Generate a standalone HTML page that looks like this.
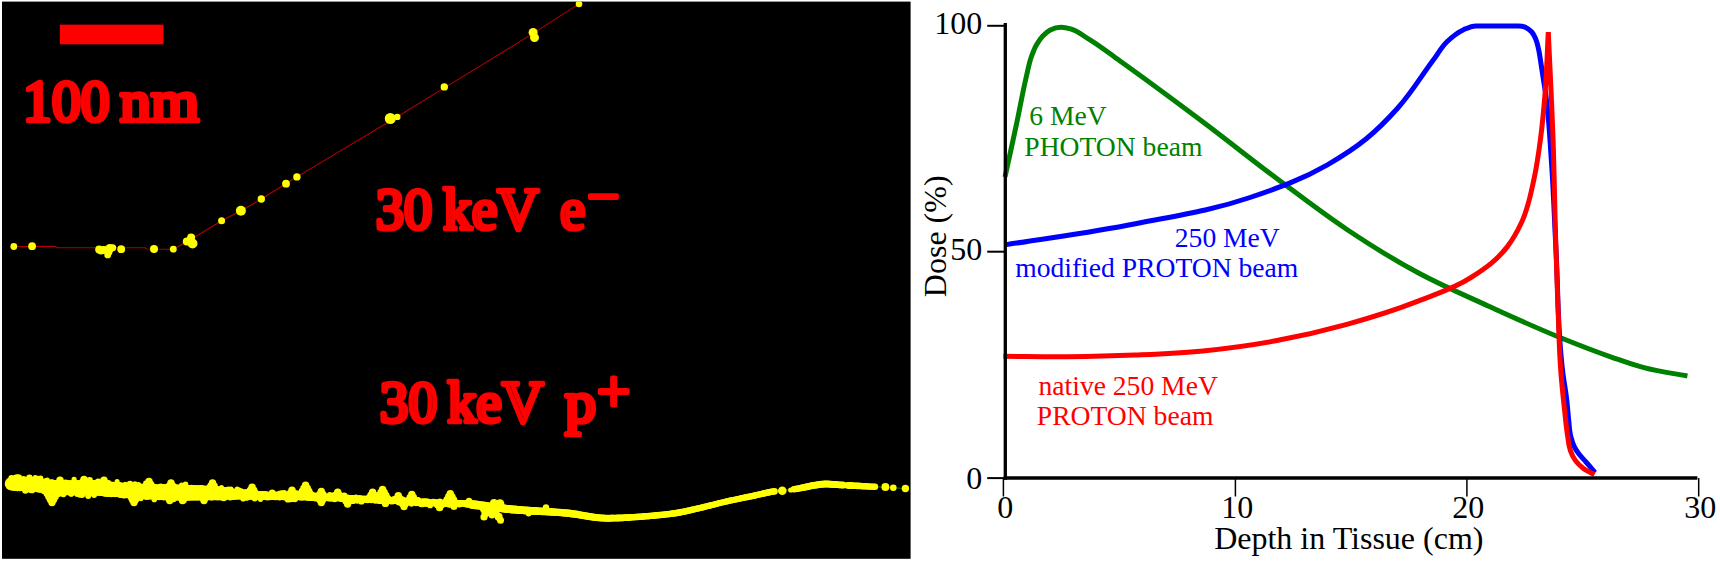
<!DOCTYPE html>
<html><head><meta charset="utf-8"><title>Particle tracks and depth dose curves</title>
<style>
html,body{margin:0;padding:0;background:#fff;}
body{width:1720px;height:561px;overflow:hidden;}
svg{display:block;}
.ch{font-family:"Liberation Serif",serif;}
.lb{font-family:"Liberation Serif",serif;font-weight:normal;font-size:58.5px;fill:#d20000;stroke:#f00;stroke-width:4.6px;stroke-linejoin:round;}
.sg{font-family:"Liberation Serif",serif;fill:#f00;stroke:#f00;stroke-width:4px;stroke-linejoin:round;}
</style></head><body>
<svg width="1720" height="561" viewBox="0 0 1720 561">
<rect x="0" y="0" width="1720" height="561" fill="#fff"/>
<rect x="2" y="1.6" width="908.6" height="557.2" fill="#000"/>
<rect x="59.8" y="24.6" width="103.7" height="19.7" fill="#f00"/>
<clipPath id="lp"><rect x="2" y="1.6" width="908.6" height="557.2"/></clipPath>
<g clip-path="url(#lp)">
<polyline fill="none" stroke="#b40000" stroke-width="1.1" points="13.8,246.5 55.0,246.3 56.5,247.6 145.0,247.7 146.5,249.0 173.3,249.2 190.0,240.0 221.6,220.7 240.9,210.8 261.3,199.0 286.0,183.7 296.9,176.9 393.3,119.3 444.3,87.9 533.1,33.4 579.0,3.9 583.0,1.4"/>
<g fill="#ff0">
<circle cx="13.8" cy="246.5" r="3.4"/><circle cx="32.1" cy="246.2" r="3.9"/><circle cx="99.1" cy="249.5" r="3.9"/><circle cx="106.2" cy="250.2" r="4.0"/><circle cx="109.8" cy="248.5" r="4.5"/><circle cx="112.7" cy="247.8" r="3.5"/><circle cx="107.7" cy="254.9" r="3.4"/><circle cx="103.4" cy="249.9" r="4.0"/><circle cx="108.4" cy="252.0" r="4.0"/><circle cx="101.0" cy="251.0" r="3.6"/><circle cx="121.2" cy="249.2" r="3.9"/><circle cx="154.0" cy="248.9" r="4.0"/><circle cx="173.3" cy="249.2" r="3.4"/><circle cx="191.1" cy="237.4" r="4.0"/><circle cx="186.8" cy="241.4" r="4.0"/><circle cx="192.5" cy="243.5" r="5.0"/><circle cx="221.6" cy="220.7" r="3.5"/><circle cx="240.9" cy="210.8" r="5.0"/><circle cx="261.3" cy="199.0" r="3.7"/><circle cx="286.0" cy="183.7" r="3.9"/><circle cx="296.9" cy="176.9" r="3.7"/><circle cx="390.3" cy="118.5" r="5.5"/><circle cx="397.3" cy="116.9" r="3.2"/><circle cx="444.3" cy="86.9" r="3.7"/><circle cx="533.1" cy="32.4" r="4.5"/><circle cx="534.5" cy="37.6" r="4.5"/><circle cx="579.0" cy="3.9" r="3.3"/>
</g>
<polyline fill="none" stroke="#008000" stroke-width="1" points="765,492 794,489.2 822.6,484.3 841.2,485 875.4,486.8 905.4,488.5"/>
<g fill="#ff0">
<circle cx="11.5" cy="483.8" r="6.8"/><circle cx="11.6" cy="478.2" r="3.2"/><circle cx="10.6" cy="484.1" r="2.5"/><circle cx="13.5" cy="483.9" r="6.9"/><circle cx="14.2" cy="482.9" r="2.5"/><circle cx="14.4" cy="485.9" r="2.7"/><circle cx="15.5" cy="484.1" r="7.0"/><circle cx="16.2" cy="478.0" r="3.6"/><circle cx="15.1" cy="478.2" r="2.6"/><circle cx="17.5" cy="484.3" r="7.0"/><circle cx="17.2" cy="486.0" r="3.1"/><circle cx="16.9" cy="477.1" r="2.5"/><circle cx="19.5" cy="484.2" r="7.0"/><circle cx="19.4" cy="485.3" r="2.8"/><circle cx="19.0" cy="486.8" r="3.4"/><circle cx="21.5" cy="484.1" r="7.0"/><circle cx="21.1" cy="487.2" r="3.5"/><circle cx="23.5" cy="483.7" r="7.0"/><circle cx="23.5" cy="479.2" r="3.3"/><circle cx="23.6" cy="487.8" r="3.2"/><circle cx="25.5" cy="484.6" r="7.0"/><circle cx="25.7" cy="485.5" r="3.2"/><circle cx="25.4" cy="490.3" r="3.4"/><circle cx="27.5" cy="484.5" r="7.0"/><circle cx="28.5" cy="486.4" r="3.2"/><circle cx="29.5" cy="484.3" r="7.0"/><circle cx="29.4" cy="477.7" r="3.2"/><circle cx="30.0" cy="477.6" r="2.5"/><circle cx="31.5" cy="484.3" r="7.0"/><circle cx="30.7" cy="490.2" r="2.9"/><circle cx="32.1" cy="490.2" r="3.1"/><circle cx="33.5" cy="485.2" r="7.0"/><circle cx="34.3" cy="482.8" r="2.9"/><circle cx="35.5" cy="484.7" r="7.0"/><circle cx="35.5" cy="481.0" r="2.7"/><circle cx="35.3" cy="477.6" r="2.7"/><circle cx="37.5" cy="485.2" r="7.0"/><circle cx="37.5" cy="487.9" r="3.5"/><circle cx="38.3" cy="479.0" r="3.2"/><circle cx="39.5" cy="485.8" r="7.0"/><circle cx="38.7" cy="484.0" r="2.9"/><circle cx="41.5" cy="485.9" r="7.0"/><circle cx="40.8" cy="481.2" r="2.5"/><circle cx="40.8" cy="477.9" r="2.5"/><circle cx="43.5" cy="485.6" r="7.0"/><circle cx="43.7" cy="491.9" r="2.4"/><circle cx="43.2" cy="483.7" r="2.7"/><circle cx="45.5" cy="485.8" r="7.0"/><circle cx="47.5" cy="486.3" r="7.0"/><circle cx="47.2" cy="480.1" r="2.5"/><circle cx="46.5" cy="481.7" r="3.4"/><circle cx="49.5" cy="486.9" r="7.0"/><circle cx="48.6" cy="487.1" r="2.6"/><circle cx="49.9" cy="491.4" r="3.6"/><circle cx="51.5" cy="486.3" r="7.0"/><circle cx="51.6" cy="490.8" r="2.6"/><circle cx="52.1" cy="482.4" r="2.8"/><circle cx="53.5" cy="487.2" r="7.0"/><circle cx="55.5" cy="487.1" r="7.1"/><circle cx="55.2" cy="487.1" r="2.7"/><circle cx="55.0" cy="483.3" r="2.4"/><circle cx="57.5" cy="487.1" r="7.1"/><circle cx="58.4" cy="493.5" r="3.5"/><circle cx="59.5" cy="486.8" r="7.1"/><circle cx="58.9" cy="482.3" r="2.7"/><circle cx="59.5" cy="491.7" r="3.5"/><circle cx="61.5" cy="487.2" r="7.1"/><circle cx="62.3" cy="489.6" r="2.5"/><circle cx="60.9" cy="486.7" r="3.3"/><circle cx="63.5" cy="487.4" r="7.2"/><circle cx="63.3" cy="493.8" r="3.4"/><circle cx="62.8" cy="490.2" r="3.5"/><circle cx="65.5" cy="486.8" r="7.2"/><circle cx="64.8" cy="491.5" r="3.5"/><circle cx="67.5" cy="487.7" r="7.2"/><circle cx="66.8" cy="488.0" r="2.8"/><circle cx="67.6" cy="489.4" r="3.6"/><circle cx="69.5" cy="487.8" r="7.3"/><circle cx="68.9" cy="492.0" r="3.4"/><circle cx="69.7" cy="483.2" r="2.8"/><circle cx="71.5" cy="487.2" r="7.3"/><circle cx="71.2" cy="494.1" r="2.6"/><circle cx="71.3" cy="493.5" r="3.1"/><circle cx="73.5" cy="487.9" r="7.4"/><circle cx="72.5" cy="487.8" r="3.0"/><circle cx="74.1" cy="479.4" r="2.6"/><circle cx="75.5" cy="487.2" r="7.4"/><circle cx="75.2" cy="488.4" r="3.3"/><circle cx="74.7" cy="491.9" r="3.1"/><circle cx="77.5" cy="487.7" r="7.5"/><circle cx="77.5" cy="492.0" r="2.7"/><circle cx="77.4" cy="493.8" r="3.3"/><circle cx="79.5" cy="487.8" r="7.5"/><circle cx="79.4" cy="490.7" r="3.0"/><circle cx="79.9" cy="494.7" r="3.0"/><circle cx="81.5" cy="488.1" r="7.5"/><circle cx="82.2" cy="494.8" r="3.1"/><circle cx="83.5" cy="487.4" r="7.6"/><circle cx="83.0" cy="480.9" r="2.9"/><circle cx="84.3" cy="492.3" r="3.2"/><circle cx="85.5" cy="487.5" r="7.6"/><circle cx="86.3" cy="482.2" r="3.2"/><circle cx="87.5" cy="487.7" r="7.7"/><circle cx="88.2" cy="495.9" r="3.0"/><circle cx="89.5" cy="487.7" r="7.7"/><circle cx="88.9" cy="485.4" r="3.0"/><circle cx="89.6" cy="480.4" r="3.3"/><circle cx="91.5" cy="488.0" r="7.7"/><circle cx="91.5" cy="490.2" r="2.8"/><circle cx="92.4" cy="492.5" r="3.6"/><circle cx="93.5" cy="487.8" r="7.7"/><circle cx="93.0" cy="493.1" r="2.4"/><circle cx="94.1" cy="495.1" r="2.9"/><circle cx="95.5" cy="488.0" r="7.8"/><circle cx="95.9" cy="489.4" r="3.5"/><circle cx="95.4" cy="491.6" r="2.5"/><circle cx="97.5" cy="487.9" r="7.8"/><circle cx="98.2" cy="481.8" r="3.4"/><circle cx="99.5" cy="488.0" r="7.8"/><circle cx="100.4" cy="489.4" r="2.8"/><circle cx="101.5" cy="488.3" r="7.8"/><circle cx="100.7" cy="484.3" r="3.0"/><circle cx="101.1" cy="483.3" r="2.5"/><circle cx="103.5" cy="488.5" r="7.8"/><circle cx="102.9" cy="488.7" r="2.7"/><circle cx="102.5" cy="484.3" r="2.4"/><circle cx="105.5" cy="489.1" r="7.7"/><circle cx="106.4" cy="488.4" r="2.6"/><circle cx="105.5" cy="487.8" r="3.4"/><circle cx="107.5" cy="489.3" r="7.7"/><circle cx="108.5" cy="492.1" r="3.0"/><circle cx="107.8" cy="492.2" r="3.4"/><circle cx="109.5" cy="489.0" r="7.7"/><circle cx="108.6" cy="482.6" r="2.5"/><circle cx="108.7" cy="483.4" r="2.7"/><circle cx="111.5" cy="489.6" r="7.7"/><circle cx="111.1" cy="484.9" r="2.7"/><circle cx="113.5" cy="489.4" r="7.6"/><circle cx="114.4" cy="485.6" r="2.9"/><circle cx="115.5" cy="489.6" r="7.6"/><circle cx="115.2" cy="486.7" r="3.6"/><circle cx="115.5" cy="489.2" r="2.9"/><circle cx="117.5" cy="489.5" r="7.6"/><circle cx="116.7" cy="485.7" r="2.4"/><circle cx="117.1" cy="481.6" r="2.5"/><circle cx="119.5" cy="489.7" r="7.6"/><circle cx="119.8" cy="493.9" r="3.0"/><circle cx="119.2" cy="488.3" r="3.5"/><circle cx="121.5" cy="490.6" r="7.5"/><circle cx="120.6" cy="492.3" r="3.3"/><circle cx="123.5" cy="490.6" r="7.5"/><circle cx="122.8" cy="495.0" r="3.3"/><circle cx="124.1" cy="495.6" r="3.0"/><circle cx="125.5" cy="490.7" r="7.5"/><circle cx="125.9" cy="493.1" r="3.5"/><circle cx="125.2" cy="484.2" r="2.4"/><circle cx="127.5" cy="490.1" r="7.4"/><circle cx="127.9" cy="492.5" r="3.2"/><circle cx="129.5" cy="490.7" r="7.4"/><circle cx="129.5" cy="494.4" r="3.4"/><circle cx="130.0" cy="484.0" r="3.2"/><circle cx="131.5" cy="490.6" r="7.4"/><circle cx="130.9" cy="494.5" r="2.7"/><circle cx="131.3" cy="490.7" r="3.6"/><circle cx="133.5" cy="490.9" r="7.4"/><circle cx="133.8" cy="492.7" r="3.3"/><circle cx="134.0" cy="486.9" r="2.6"/><circle cx="135.5" cy="490.8" r="7.4"/><circle cx="135.0" cy="483.7" r="2.4"/><circle cx="135.1" cy="493.7" r="3.2"/><circle cx="137.5" cy="491.1" r="7.4"/><circle cx="138.3" cy="485.1" r="3.0"/><circle cx="136.5" cy="497.4" r="3.6"/><circle cx="139.5" cy="491.2" r="7.4"/><circle cx="141.5" cy="491.3" r="7.5"/><circle cx="140.9" cy="498.6" r="2.7"/><circle cx="142.4" cy="491.7" r="2.6"/><circle cx="143.5" cy="491.0" r="7.5"/><circle cx="143.0" cy="494.4" r="3.5"/><circle cx="145.5" cy="491.9" r="7.5"/><circle cx="145.5" cy="483.0" r="2.4"/><circle cx="145.2" cy="485.6" r="2.8"/><circle cx="147.5" cy="491.4" r="7.6"/><circle cx="146.7" cy="496.8" r="3.3"/><circle cx="149.5" cy="492.1" r="7.6"/><circle cx="149.2" cy="488.4" r="3.5"/><circle cx="149.2" cy="493.0" r="3.6"/><circle cx="151.5" cy="491.6" r="7.7"/><circle cx="152.2" cy="484.8" r="2.5"/><circle cx="151.0" cy="487.9" r="3.5"/><circle cx="153.5" cy="491.8" r="7.7"/><circle cx="154.3" cy="499.4" r="2.8"/><circle cx="155.5" cy="492.0" r="7.8"/><circle cx="157.5" cy="492.0" r="7.8"/><circle cx="157.4" cy="496.1" r="2.5"/><circle cx="156.6" cy="488.4" r="3.2"/><circle cx="159.5" cy="492.4" r="7.9"/><circle cx="159.1" cy="489.3" r="3.0"/><circle cx="159.8" cy="488.2" r="3.6"/><circle cx="161.5" cy="491.8" r="7.9"/><circle cx="160.8" cy="486.3" r="2.9"/><circle cx="160.9" cy="492.0" r="3.5"/><circle cx="163.5" cy="492.5" r="7.9"/><circle cx="162.7" cy="486.6" r="2.6"/><circle cx="165.5" cy="492.0" r="8.0"/><circle cx="165.6" cy="487.9" r="2.7"/><circle cx="167.5" cy="492.5" r="8.0"/><circle cx="167.3" cy="492.6" r="2.9"/><circle cx="168.4" cy="488.2" r="2.5"/><circle cx="169.5" cy="491.9" r="8.0"/><circle cx="168.9" cy="498.4" r="3.2"/><circle cx="169.4" cy="490.5" r="2.7"/><circle cx="171.5" cy="492.8" r="8.0"/><circle cx="173.5" cy="491.9" r="8.0"/><circle cx="173.4" cy="499.0" r="3.3"/><circle cx="174.4" cy="490.4" r="2.4"/><circle cx="175.5" cy="492.8" r="8.0"/><circle cx="177.5" cy="492.2" r="8.0"/><circle cx="177.9" cy="492.9" r="2.6"/><circle cx="179.5" cy="492.8" r="7.9"/><circle cx="179.6" cy="491.8" r="3.3"/><circle cx="180.3" cy="488.2" r="3.3"/><circle cx="181.5" cy="492.7" r="7.9"/><circle cx="181.8" cy="488.1" r="2.6"/><circle cx="181.5" cy="484.9" r="2.5"/><circle cx="183.5" cy="492.7" r="7.9"/><circle cx="182.5" cy="494.4" r="2.7"/><circle cx="183.8" cy="500.4" r="3.0"/><circle cx="185.5" cy="493.0" r="7.9"/><circle cx="186.4" cy="488.2" r="2.7"/><circle cx="185.5" cy="484.4" r="2.8"/><circle cx="187.5" cy="492.9" r="7.8"/><circle cx="188.4" cy="495.6" r="2.7"/><circle cx="187.3" cy="489.8" r="2.4"/><circle cx="189.5" cy="492.9" r="7.8"/><circle cx="189.5" cy="496.5" r="3.4"/><circle cx="190.1" cy="489.8" r="3.6"/><circle cx="191.5" cy="492.5" r="7.7"/><circle cx="192.4" cy="489.5" r="3.3"/><circle cx="191.3" cy="488.0" r="2.6"/><circle cx="193.5" cy="493.0" r="7.7"/><circle cx="194.4" cy="488.0" r="2.9"/><circle cx="195.5" cy="492.5" r="7.6"/><circle cx="196.3" cy="491.0" r="2.5"/><circle cx="197.5" cy="493.1" r="7.6"/><circle cx="199.5" cy="492.8" r="7.5"/><circle cx="198.6" cy="496.6" r="3.5"/><circle cx="199.2" cy="490.9" r="2.9"/><circle cx="201.5" cy="492.6" r="7.5"/><circle cx="202.4" cy="490.5" r="2.7"/><circle cx="201.2" cy="488.7" r="3.6"/><circle cx="203.5" cy="493.3" r="7.4"/><circle cx="203.2" cy="492.6" r="2.5"/><circle cx="205.5" cy="493.5" r="7.3"/><circle cx="204.6" cy="499.3" r="2.8"/><circle cx="204.6" cy="497.0" r="3.4"/><circle cx="207.5" cy="492.6" r="7.3"/><circle cx="208.0" cy="489.6" r="3.5"/><circle cx="209.5" cy="493.0" r="7.2"/><circle cx="209.0" cy="494.8" r="3.5"/><circle cx="208.5" cy="489.7" r="2.8"/><circle cx="211.5" cy="493.5" r="7.2"/><circle cx="211.0" cy="486.6" r="3.5"/><circle cx="213.5" cy="493.2" r="7.1"/><circle cx="215.5" cy="493.2" r="7.0"/><circle cx="216.4" cy="493.2" r="2.9"/><circle cx="216.1" cy="496.6" r="3.4"/><circle cx="217.5" cy="493.6" r="6.9"/><circle cx="217.2" cy="490.7" r="2.8"/><circle cx="218.0" cy="488.7" r="2.5"/><circle cx="219.5" cy="493.2" r="6.8"/><circle cx="219.2" cy="494.2" r="2.4"/><circle cx="221.5" cy="493.9" r="6.7"/><circle cx="221.5" cy="487.6" r="2.5"/><circle cx="223.5" cy="493.8" r="6.5"/><circle cx="223.7" cy="492.4" r="2.7"/><circle cx="223.8" cy="497.9" r="3.3"/><circle cx="225.5" cy="493.3" r="6.3"/><circle cx="226.0" cy="492.1" r="3.1"/><circle cx="227.5" cy="493.4" r="6.1"/><circle cx="228.3" cy="489.3" r="2.7"/><circle cx="228.5" cy="492.4" r="2.8"/><circle cx="229.5" cy="493.8" r="6.0"/><circle cx="230.5" cy="495.5" r="3.4"/><circle cx="230.2" cy="497.6" r="3.0"/><circle cx="231.5" cy="494.3" r="5.8"/><circle cx="230.9" cy="489.4" r="2.8"/><circle cx="233.5" cy="494.1" r="5.6"/><circle cx="233.0" cy="493.5" r="3.4"/><circle cx="235.5" cy="494.4" r="5.5"/><circle cx="234.9" cy="495.3" r="3.1"/><circle cx="237.5" cy="494.0" r="5.3"/><circle cx="237.7" cy="491.6" r="2.6"/><circle cx="237.2" cy="489.0" r="2.6"/><circle cx="239.5" cy="494.5" r="5.2"/><circle cx="240.1" cy="491.3" r="2.8"/><circle cx="239.3" cy="490.0" r="2.5"/><circle cx="241.5" cy="494.4" r="5.1"/><circle cx="241.9" cy="490.9" r="2.5"/><circle cx="243.5" cy="494.4" r="5.0"/><circle cx="243.1" cy="498.8" r="2.8"/><circle cx="245.5" cy="494.7" r="4.9"/><circle cx="246.5" cy="497.9" r="2.9"/><circle cx="247.5" cy="494.6" r="4.8"/><circle cx="246.5" cy="492.4" r="3.3"/><circle cx="249.5" cy="495.3" r="4.7"/><circle cx="250.3" cy="494.2" r="3.4"/><circle cx="251.5" cy="495.0" r="4.7"/><circle cx="251.8" cy="495.5" r="2.4"/><circle cx="253.5" cy="495.6" r="4.6"/><circle cx="253.5" cy="494.2" r="3.1"/><circle cx="255.5" cy="494.9" r="4.5"/><circle cx="254.7" cy="498.6" r="3.0"/><circle cx="257.5" cy="495.4" r="4.5"/><circle cx="259.5" cy="495.9" r="4.4"/><circle cx="260.5" cy="499.3" r="2.6"/><circle cx="261.5" cy="495.5" r="4.4"/><circle cx="262.3" cy="494.8" r="3.5"/><circle cx="263.5" cy="495.7" r="4.4"/><circle cx="265.5" cy="495.3" r="4.4"/><circle cx="266.2" cy="494.9" r="2.7"/><circle cx="267.5" cy="496.1" r="4.3"/><circle cx="267.5" cy="494.9" r="2.7"/><circle cx="269.5" cy="495.7" r="4.3"/><circle cx="270.3" cy="497.6" r="2.7"/><circle cx="271.5" cy="495.4" r="4.3"/><circle cx="272.2" cy="492.8" r="3.3"/><circle cx="273.5" cy="495.5" r="4.3"/><circle cx="273.1" cy="496.8" r="3.1"/><circle cx="275.5" cy="495.9" r="4.3"/><circle cx="275.4" cy="497.1" r="2.9"/><circle cx="277.5" cy="495.9" r="4.2"/><circle cx="277.0" cy="495.9" r="3.1"/><circle cx="279.5" cy="496.3" r="4.2"/><circle cx="279.4" cy="493.7" r="2.9"/><circle cx="281.5" cy="495.7" r="4.2"/><circle cx="281.4" cy="493.1" r="2.9"/><circle cx="283.5" cy="496.1" r="4.2"/><circle cx="284.0" cy="493.3" r="3.2"/><circle cx="285.5" cy="496.4" r="4.2"/><circle cx="285.3" cy="496.2" r="2.5"/><circle cx="287.5" cy="496.6" r="4.2"/><circle cx="288.0" cy="499.2" r="3.4"/><circle cx="289.5" cy="496.5" r="4.2"/><circle cx="290.4" cy="496.2" r="3.6"/><circle cx="291.5" cy="496.7" r="4.1"/><circle cx="290.6" cy="498.9" r="3.3"/><circle cx="293.5" cy="496.2" r="4.1"/><circle cx="293.0" cy="499.3" r="2.6"/><circle cx="295.5" cy="496.7" r="4.1"/><circle cx="294.9" cy="499.2" r="3.0"/><circle cx="297.5" cy="496.2" r="4.1"/><circle cx="296.9" cy="493.1" r="2.8"/><circle cx="299.5" cy="496.1" r="4.1"/><circle cx="301.5" cy="496.7" r="4.1"/><circle cx="303.5" cy="496.3" r="4.0"/><circle cx="303.8" cy="496.8" r="2.5"/><circle cx="305.5" cy="496.5" r="4.0"/><circle cx="307.5" cy="496.8" r="4.0"/><circle cx="308.5" cy="494.6" r="3.5"/><circle cx="309.5" cy="496.9" r="4.0"/><circle cx="310.5" cy="495.5" r="3.4"/><circle cx="311.5" cy="497.0" r="3.9"/><circle cx="310.9" cy="496.6" r="3.3"/><circle cx="313.5" cy="497.2" r="3.9"/><circle cx="313.8" cy="495.6" r="3.4"/><circle cx="315.5" cy="497.5" r="3.9"/><circle cx="314.5" cy="496.0" r="3.2"/><circle cx="317.5" cy="496.6" r="3.9"/><circle cx="317.5" cy="496.7" r="3.1"/><circle cx="319.5" cy="497.6" r="3.8"/><circle cx="318.5" cy="498.2" r="2.7"/><circle cx="321.5" cy="496.8" r="3.8"/><circle cx="320.9" cy="496.3" r="2.5"/><circle cx="323.5" cy="497.4" r="3.8"/><circle cx="323.4" cy="498.2" r="2.6"/><circle cx="325.5" cy="497.1" r="3.7"/><circle cx="327.5" cy="497.3" r="3.7"/><circle cx="328.2" cy="498.4" r="2.5"/><circle cx="329.5" cy="497.9" r="3.7"/><circle cx="329.8" cy="494.6" r="2.7"/><circle cx="331.5" cy="497.7" r="3.7"/><circle cx="332.4" cy="497.4" r="3.2"/><circle cx="333.5" cy="498.0" r="3.6"/><circle cx="333.6" cy="495.7" r="3.5"/><circle cx="335.5" cy="497.8" r="3.6"/><circle cx="334.5" cy="499.7" r="2.5"/><circle cx="337.5" cy="498.0" r="3.6"/><circle cx="339.5" cy="497.7" r="3.6"/><circle cx="339.8" cy="498.1" r="3.1"/><circle cx="341.5" cy="498.4" r="3.6"/><circle cx="340.6" cy="497.0" r="2.8"/><circle cx="343.5" cy="498.6" r="3.6"/><circle cx="344.2" cy="495.9" r="3.3"/><circle cx="345.5" cy="498.5" r="3.6"/><circle cx="345.0" cy="498.1" r="3.3"/><circle cx="347.5" cy="498.0" r="3.6"/><circle cx="348.0" cy="497.4" r="2.4"/><circle cx="349.5" cy="498.7" r="3.6"/><circle cx="351.5" cy="498.8" r="3.6"/><circle cx="352.1" cy="498.2" r="3.1"/><circle cx="353.5" cy="498.7" r="3.6"/><circle cx="352.9" cy="500.9" r="3.2"/><circle cx="355.5" cy="499.1" r="3.6"/><circle cx="356.0" cy="497.2" r="2.7"/><circle cx="357.5" cy="499.3" r="3.6"/><circle cx="357.2" cy="501.0" r="2.8"/><circle cx="359.5" cy="498.7" r="3.6"/><circle cx="361.5" cy="499.2" r="3.6"/><circle cx="361.4" cy="501.4" r="3.2"/><circle cx="363.5" cy="499.5" r="3.6"/><circle cx="363.9" cy="498.9" r="3.4"/><circle cx="365.5" cy="499.3" r="3.6"/><circle cx="364.7" cy="500.0" r="2.7"/><circle cx="367.5" cy="499.7" r="3.6"/><circle cx="368.4" cy="496.8" r="2.4"/><circle cx="369.5" cy="499.3" r="3.6"/><circle cx="369.9" cy="496.5" r="2.4"/><circle cx="371.5" cy="499.7" r="3.6"/><circle cx="371.7" cy="497.5" r="3.3"/><circle cx="373.5" cy="499.5" r="3.6"/><circle cx="375.5" cy="500.1" r="3.6"/><circle cx="377.5" cy="499.4" r="3.6"/><circle cx="379.5" cy="500.4" r="3.6"/><circle cx="381.5" cy="499.7" r="3.7"/><circle cx="382.2" cy="497.1" r="2.5"/><circle cx="383.5" cy="500.5" r="3.7"/><circle cx="383.1" cy="500.8" r="3.4"/><circle cx="385.5" cy="499.9" r="3.7"/><circle cx="385.1" cy="498.8" r="3.3"/><circle cx="387.5" cy="500.3" r="3.7"/><circle cx="387.9" cy="499.0" r="2.7"/><circle cx="389.5" cy="500.3" r="3.7"/><circle cx="390.2" cy="500.5" r="3.6"/><circle cx="391.5" cy="500.7" r="3.7"/><circle cx="392.0" cy="500.2" r="2.9"/><circle cx="393.5" cy="500.5" r="3.7"/><circle cx="394.2" cy="499.1" r="3.0"/><circle cx="395.5" cy="500.4" r="3.7"/><circle cx="397.5" cy="500.5" r="3.7"/><circle cx="398.5" cy="502.5" r="2.6"/><circle cx="399.5" cy="500.5" r="3.7"/><circle cx="398.9" cy="502.6" r="3.0"/><circle cx="401.5" cy="501.1" r="3.7"/><circle cx="402.4" cy="499.9" r="3.4"/><circle cx="403.5" cy="501.0" r="3.7"/><circle cx="402.7" cy="501.2" r="3.2"/><circle cx="405.5" cy="501.4" r="3.7"/><circle cx="406.1" cy="502.3" r="3.3"/><circle cx="407.5" cy="501.5" r="3.7"/><circle cx="408.3" cy="500.8" r="2.9"/><circle cx="409.5" cy="501.1" r="3.7"/><circle cx="411.5" cy="501.1" r="3.7"/><circle cx="411.5" cy="504.1" r="2.7"/><circle cx="413.5" cy="501.6" r="3.7"/><circle cx="415.5" cy="501.6" r="3.7"/><circle cx="416.0" cy="503.2" r="3.0"/><circle cx="417.5" cy="502.1" r="3.7"/><circle cx="418.2" cy="499.9" r="2.8"/><circle cx="419.5" cy="502.2" r="3.7"/><circle cx="420.0" cy="501.6" r="2.6"/><circle cx="421.5" cy="502.2" r="3.7"/><circle cx="421.0" cy="504.3" r="3.0"/><circle cx="423.5" cy="501.9" r="3.7"/><circle cx="422.8" cy="504.0" r="3.2"/><circle cx="425.5" cy="502.0" r="3.7"/><circle cx="424.8" cy="502.5" r="2.8"/><circle cx="427.5" cy="502.3" r="3.7"/><circle cx="426.7" cy="503.5" r="3.6"/><circle cx="429.5" cy="503.0" r="3.7"/><circle cx="430.1" cy="505.4" r="2.9"/><circle cx="431.5" cy="502.9" r="3.7"/><circle cx="430.7" cy="503.5" r="2.6"/><circle cx="433.5" cy="502.4" r="3.7"/><circle cx="434.1" cy="502.1" r="2.4"/><circle cx="435.5" cy="503.0" r="3.7"/><circle cx="434.8" cy="502.6" r="3.2"/><circle cx="437.5" cy="503.0" r="3.7"/><circle cx="437.4" cy="505.0" r="3.3"/><circle cx="439.5" cy="503.1" r="3.7"/><circle cx="439.9" cy="501.4" r="2.9"/><circle cx="441.5" cy="503.4" r="3.7"/><circle cx="441.9" cy="504.9" r="3.2"/><circle cx="443.5" cy="503.3" r="3.7"/><circle cx="442.7" cy="503.9" r="2.8"/><circle cx="445.5" cy="503.1" r="3.7"/><circle cx="445.0" cy="503.8" r="3.3"/><circle cx="447.5" cy="503.1" r="3.6"/><circle cx="447.9" cy="502.8" r="3.1"/><circle cx="449.5" cy="503.7" r="3.6"/><circle cx="449.3" cy="504.6" r="3.2"/><circle cx="451.5" cy="503.3" r="3.6"/><circle cx="453.5" cy="502.9" r="3.5"/><circle cx="454.4" cy="505.0" r="2.6"/><circle cx="455.5" cy="503.5" r="3.5"/><circle cx="455.9" cy="503.6" r="3.1"/><circle cx="457.5" cy="503.5" r="3.4"/><circle cx="457.3" cy="503.6" r="3.4"/><circle cx="459.5" cy="504.0" r="3.4"/><circle cx="460.0" cy="503.1" r="3.2"/><circle cx="461.5" cy="503.3" r="3.4"/><circle cx="463.5" cy="503.6" r="3.4"/><circle cx="462.5" cy="503.3" r="2.7"/><circle cx="465.5" cy="503.8" r="3.3"/><circle cx="465.0" cy="503.3" r="3.2"/><circle cx="467.5" cy="503.8" r="3.3"/><circle cx="466.9" cy="504.2" r="3.5"/><circle cx="469.5" cy="504.6" r="3.3"/><circle cx="470.1" cy="502.3" r="2.7"/><circle cx="471.5" cy="504.4" r="4.4"/><circle cx="473.0" cy="504.6" r="4.4"/><circle cx="474.5" cy="504.8" r="4.4"/><circle cx="476.0" cy="504.9" r="4.4"/><circle cx="477.5" cy="505.1" r="4.4"/><circle cx="479.0" cy="505.3" r="4.3"/><circle cx="480.5" cy="505.5" r="4.3"/><circle cx="482.0" cy="505.7" r="4.3"/><circle cx="483.5" cy="505.9" r="4.3"/><circle cx="485.0" cy="506.0" r="4.3"/><circle cx="486.5" cy="506.2" r="4.3"/><circle cx="488.0" cy="506.4" r="4.2"/><circle cx="489.5" cy="506.7" r="4.2"/><circle cx="491.0" cy="506.9" r="4.2"/><circle cx="492.5" cy="507.1" r="4.2"/><circle cx="494.0" cy="507.3" r="4.2"/><circle cx="495.5" cy="507.5" r="4.2"/><circle cx="497.0" cy="507.7" r="4.1"/><circle cx="498.5" cy="507.9" r="4.1"/><circle cx="500.0" cy="508.0" r="4.1"/><circle cx="501.5" cy="508.2" r="4.1"/><circle cx="503.0" cy="508.4" r="4.1"/><circle cx="504.5" cy="508.6" r="4.1"/><circle cx="506.0" cy="508.8" r="4.1"/><circle cx="507.5" cy="508.9" r="4.0"/><circle cx="509.0" cy="509.1" r="4.0"/><circle cx="510.5" cy="509.2" r="4.0"/><circle cx="512.0" cy="509.4" r="4.0"/><circle cx="513.5" cy="509.5" r="4.0"/><circle cx="515.0" cy="509.6" r="4.0"/><circle cx="516.5" cy="509.7" r="4.0"/><circle cx="518.0" cy="509.9" r="4.0"/><circle cx="519.5" cy="510.0" r="4.0"/><circle cx="521.0" cy="510.1" r="3.9"/><circle cx="522.5" cy="510.2" r="3.9"/><circle cx="524.0" cy="510.3" r="3.9"/><circle cx="525.5" cy="510.4" r="3.9"/><circle cx="527.0" cy="510.5" r="3.9"/><circle cx="528.5" cy="510.6" r="3.9"/><circle cx="530.0" cy="510.7" r="3.9"/><circle cx="531.5" cy="510.8" r="3.9"/><circle cx="533.0" cy="510.8" r="3.9"/><circle cx="534.5" cy="510.9" r="3.9"/><circle cx="536.0" cy="511.0" r="3.9"/><circle cx="537.5" cy="511.1" r="3.8"/><circle cx="539.0" cy="511.2" r="3.8"/><circle cx="540.5" cy="511.3" r="3.8"/><circle cx="542.0" cy="511.4" r="3.8"/><circle cx="543.5" cy="511.4" r="3.8"/><circle cx="545.0" cy="511.5" r="3.8"/><circle cx="546.5" cy="511.6" r="3.8"/><circle cx="548.0" cy="511.7" r="3.8"/><circle cx="549.5" cy="511.8" r="3.8"/><circle cx="551.0" cy="511.9" r="3.8"/><circle cx="552.5" cy="512.0" r="3.8"/><circle cx="554.0" cy="512.1" r="3.8"/><circle cx="555.5" cy="512.2" r="3.8"/><circle cx="557.0" cy="512.3" r="3.8"/><circle cx="558.5" cy="512.4" r="3.7"/><circle cx="560.0" cy="512.5" r="3.7"/><circle cx="561.5" cy="512.6" r="3.7"/><circle cx="563.0" cy="512.8" r="3.7"/><circle cx="564.5" cy="512.9" r="3.7"/><circle cx="566.0" cy="513.0" r="3.7"/><circle cx="567.5" cy="513.1" r="3.7"/><circle cx="569.0" cy="513.3" r="3.7"/><circle cx="570.5" cy="513.5" r="3.7"/><circle cx="572.0" cy="513.7" r="3.7"/><circle cx="573.5" cy="513.9" r="3.7"/><circle cx="575.0" cy="514.1" r="3.7"/><circle cx="576.5" cy="514.3" r="3.7"/><circle cx="578.0" cy="514.6" r="3.6"/><circle cx="579.5" cy="514.8" r="3.6"/><circle cx="581.0" cy="515.1" r="3.6"/><circle cx="582.5" cy="515.3" r="3.6"/><circle cx="584.0" cy="515.6" r="3.6"/><circle cx="585.5" cy="515.8" r="3.6"/><circle cx="587.0" cy="516.1" r="3.6"/><circle cx="588.5" cy="516.3" r="3.6"/><circle cx="590.0" cy="516.6" r="3.6"/><circle cx="591.5" cy="516.8" r="3.6"/><circle cx="593.0" cy="517.0" r="3.6"/><circle cx="594.5" cy="517.3" r="3.6"/><circle cx="596.0" cy="517.5" r="3.6"/><circle cx="597.5" cy="517.6" r="3.6"/><circle cx="599.0" cy="517.8" r="3.5"/><circle cx="600.5" cy="517.9" r="3.5"/><circle cx="602.0" cy="518.0" r="3.5"/><circle cx="603.5" cy="518.1" r="3.5"/><circle cx="605.0" cy="518.2" r="3.5"/><circle cx="606.5" cy="518.2" r="3.5"/><circle cx="608.0" cy="518.2" r="3.5"/><circle cx="609.5" cy="518.2" r="3.5"/><circle cx="611.0" cy="518.2" r="3.5"/><circle cx="612.5" cy="518.1" r="3.5"/><circle cx="614.0" cy="518.1" r="3.4"/><circle cx="615.5" cy="518.1" r="3.4"/><circle cx="617.0" cy="518.0" r="3.4"/><circle cx="618.5" cy="518.0" r="3.4"/><circle cx="620.0" cy="517.9" r="3.4"/><circle cx="621.5" cy="517.9" r="3.4"/><circle cx="623.0" cy="517.8" r="3.4"/><circle cx="624.5" cy="517.7" r="3.4"/><circle cx="626.0" cy="517.7" r="3.4"/><circle cx="627.5" cy="517.6" r="3.4"/><circle cx="629.0" cy="517.5" r="3.4"/><circle cx="630.5" cy="517.4" r="3.3"/><circle cx="632.0" cy="517.3" r="3.3"/><circle cx="633.5" cy="517.2" r="3.3"/><circle cx="635.0" cy="517.1" r="3.3"/><circle cx="636.5" cy="517.0" r="3.3"/><circle cx="638.0" cy="516.9" r="3.3"/><circle cx="639.5" cy="516.8" r="3.3"/><circle cx="641.0" cy="516.7" r="3.3"/><circle cx="642.5" cy="516.6" r="3.3"/><circle cx="644.0" cy="516.4" r="3.3"/><circle cx="645.5" cy="516.3" r="3.3"/><circle cx="647.0" cy="516.2" r="3.3"/><circle cx="648.5" cy="516.1" r="3.3"/><circle cx="650.0" cy="516.0" r="3.3"/><circle cx="651.5" cy="515.8" r="3.3"/><circle cx="653.0" cy="515.7" r="3.3"/><circle cx="654.5" cy="515.6" r="3.3"/><circle cx="656.0" cy="515.4" r="3.3"/><circle cx="657.5" cy="515.3" r="3.3"/><circle cx="659.0" cy="515.1" r="3.3"/><circle cx="660.5" cy="515.0" r="3.3"/><circle cx="662.0" cy="514.8" r="3.3"/><circle cx="663.5" cy="514.7" r="3.3"/><circle cx="665.0" cy="514.5" r="3.3"/><circle cx="666.5" cy="514.3" r="3.3"/><circle cx="668.0" cy="514.2" r="3.3"/><circle cx="669.5" cy="514.0" r="3.3"/><circle cx="671.0" cy="513.8" r="3.3"/><circle cx="672.5" cy="513.6" r="3.3"/><circle cx="674.0" cy="513.4" r="3.3"/><circle cx="675.5" cy="513.2" r="3.3"/><circle cx="677.0" cy="512.9" r="3.3"/><circle cx="678.5" cy="512.7" r="3.3"/><circle cx="680.0" cy="512.4" r="3.3"/><circle cx="681.5" cy="512.1" r="3.3"/><circle cx="683.0" cy="511.8" r="3.3"/><circle cx="684.5" cy="511.5" r="3.3"/><circle cx="686.0" cy="511.2" r="3.3"/><circle cx="687.5" cy="510.8" r="3.3"/><circle cx="689.0" cy="510.5" r="3.3"/><circle cx="690.5" cy="510.2" r="3.2"/><circle cx="692.0" cy="509.8" r="3.2"/><circle cx="693.5" cy="509.5" r="3.2"/><circle cx="695.0" cy="509.1" r="3.2"/><circle cx="696.5" cy="508.7" r="3.2"/><circle cx="698.0" cy="508.4" r="3.2"/><circle cx="699.5" cy="508.1" r="3.2"/><circle cx="701.0" cy="507.7" r="3.2"/><circle cx="702.5" cy="507.4" r="3.2"/><circle cx="704.0" cy="507.0" r="3.2"/><circle cx="705.5" cy="506.6" r="3.2"/><circle cx="707.0" cy="506.3" r="3.2"/><circle cx="708.5" cy="505.9" r="3.2"/><circle cx="710.0" cy="505.5" r="3.2"/><circle cx="711.5" cy="505.1" r="3.1"/><circle cx="713.0" cy="504.8" r="3.1"/><circle cx="714.5" cy="504.4" r="3.1"/><circle cx="716.0" cy="504.0" r="3.1"/><circle cx="717.5" cy="503.6" r="3.1"/><circle cx="719.0" cy="503.2" r="3.1"/><circle cx="720.5" cy="502.8" r="3.1"/><circle cx="722.0" cy="502.5" r="3.1"/><circle cx="723.5" cy="502.1" r="3.1"/><circle cx="725.0" cy="501.8" r="3.1"/><circle cx="726.5" cy="501.4" r="3.1"/><circle cx="728.0" cy="501.1" r="3.1"/><circle cx="729.5" cy="500.7" r="3.1"/><circle cx="731.0" cy="500.4" r="3.1"/><circle cx="732.5" cy="500.1" r="3.1"/><circle cx="734.0" cy="499.8" r="3.1"/><circle cx="735.5" cy="499.5" r="3.1"/><circle cx="737.0" cy="499.2" r="3.1"/><circle cx="738.5" cy="498.9" r="3.1"/><circle cx="740.0" cy="498.6" r="3.1"/><circle cx="741.5" cy="498.2" r="3.1"/><circle cx="743.0" cy="497.9" r="3.1"/><circle cx="744.5" cy="497.6" r="3.2"/><circle cx="746.0" cy="497.3" r="3.2"/><circle cx="747.5" cy="497.0" r="3.2"/><circle cx="749.0" cy="496.7" r="3.2"/><circle cx="750.5" cy="496.4" r="3.2"/><circle cx="752.0" cy="496.1" r="3.2"/><circle cx="753.5" cy="495.8" r="3.2"/><circle cx="755.0" cy="495.5" r="3.2"/><circle cx="756.5" cy="495.1" r="3.2"/><circle cx="758.0" cy="494.8" r="3.2"/><circle cx="759.5" cy="494.4" r="3.2"/><circle cx="761.0" cy="494.1" r="3.2"/><circle cx="762.5" cy="493.7" r="3.3"/><circle cx="764.0" cy="493.4" r="3.3"/><circle cx="765.5" cy="493.0" r="3.3"/><circle cx="767.0" cy="492.7" r="3.3"/><circle cx="768.5" cy="492.4" r="3.3"/><circle cx="770.0" cy="492.1" r="3.3"/><circle cx="771.5" cy="491.8" r="3.3"/><circle cx="773.0" cy="491.6" r="3.3"/><circle cx="774.5" cy="491.4" r="3.3"/><circle cx="794.0" cy="489.2" r="3.3"/><circle cx="795.5" cy="489.0" r="3.3"/><circle cx="797.0" cy="488.8" r="3.3"/><circle cx="798.5" cy="488.5" r="3.3"/><circle cx="800.0" cy="488.2" r="3.3"/><circle cx="801.5" cy="487.9" r="3.3"/><circle cx="803.0" cy="487.6" r="3.3"/><circle cx="804.5" cy="487.3" r="3.4"/><circle cx="806.0" cy="487.0" r="3.4"/><circle cx="807.5" cy="486.7" r="3.4"/><circle cx="809.0" cy="486.3" r="3.4"/><circle cx="810.5" cy="486.0" r="3.4"/><circle cx="812.0" cy="485.7" r="3.4"/><circle cx="813.5" cy="485.4" r="3.4"/><circle cx="815.0" cy="485.2" r="3.4"/><circle cx="816.5" cy="484.9" r="3.5"/><circle cx="818.0" cy="484.7" r="3.5"/><circle cx="819.5" cy="484.5" r="3.5"/><circle cx="821.0" cy="484.3" r="3.5"/><circle cx="822.5" cy="484.2" r="3.5"/><circle cx="824.0" cy="484.1" r="3.5"/><circle cx="825.5" cy="484.1" r="3.5"/><circle cx="827.0" cy="484.1" r="3.5"/><circle cx="828.5" cy="484.1" r="3.5"/><circle cx="830.0" cy="484.2" r="3.5"/><circle cx="831.5" cy="484.3" r="3.5"/><circle cx="833.0" cy="484.4" r="3.5"/><circle cx="834.5" cy="484.5" r="3.5"/><circle cx="836.0" cy="484.6" r="3.5"/><circle cx="837.5" cy="484.7" r="3.4"/><circle cx="839.0" cy="484.8" r="3.4"/><circle cx="840.5" cy="484.9" r="3.4"/><circle cx="842.0" cy="485.0" r="3.4"/><circle cx="843.5" cy="485.1" r="3.4"/><circle cx="848.0" cy="485.4" r="3.4"/><circle cx="849.5" cy="485.5" r="3.4"/><circle cx="851.0" cy="485.5" r="3.4"/><circle cx="852.5" cy="485.6" r="3.3"/><circle cx="854.0" cy="485.7" r="3.3"/><circle cx="855.5" cy="485.8" r="3.3"/><circle cx="857.0" cy="485.9" r="3.3"/><circle cx="858.5" cy="485.9" r="3.3"/><circle cx="860.0" cy="486.0" r="3.3"/><circle cx="861.5" cy="486.1" r="3.3"/><circle cx="863.0" cy="486.2" r="3.3"/><circle cx="864.5" cy="486.3" r="3.3"/><circle cx="866.0" cy="486.3" r="3.3"/><circle cx="867.5" cy="486.4" r="3.2"/><circle cx="869.0" cy="486.5" r="3.2"/><circle cx="870.5" cy="486.6" r="3.2"/><circle cx="872.0" cy="486.6" r="3.2"/><circle cx="873.5" cy="486.7" r="3.2"/><circle cx="875.0" cy="486.8" r="3.2"/><circle cx="18.5" cy="477.9" r="3.7"/><circle cx="16.9" cy="480.9" r="3.7"/><circle cx="20.1" cy="480.9" r="3.7"/><circle cx="15.3" cy="483.9" r="3.7"/><circle cx="21.7" cy="483.9" r="3.7"/><circle cx="60.0" cy="480.1" r="3.7"/><circle cx="58.4" cy="483.1" r="3.7"/><circle cx="61.6" cy="483.1" r="3.7"/><circle cx="56.8" cy="486.1" r="3.7"/><circle cx="63.2" cy="486.1" r="3.7"/><circle cx="84.0" cy="479.4" r="3.7"/><circle cx="82.4" cy="482.4" r="3.7"/><circle cx="85.6" cy="482.4" r="3.7"/><circle cx="80.8" cy="485.4" r="3.7"/><circle cx="87.2" cy="485.4" r="3.7"/><circle cx="104.0" cy="480.1" r="3.7"/><circle cx="102.4" cy="483.1" r="3.7"/><circle cx="105.6" cy="483.1" r="3.7"/><circle cx="100.8" cy="486.1" r="3.7"/><circle cx="107.2" cy="486.1" r="3.7"/><circle cx="149.0" cy="481.5" r="3.7"/><circle cx="147.4" cy="484.5" r="3.7"/><circle cx="150.6" cy="484.5" r="3.7"/><circle cx="145.8" cy="487.5" r="3.7"/><circle cx="152.2" cy="487.5" r="3.7"/><circle cx="144.2" cy="490.5" r="3.7"/><circle cx="153.8" cy="490.5" r="3.7"/><circle cx="171.0" cy="482.9" r="3.7"/><circle cx="169.4" cy="485.9" r="3.7"/><circle cx="172.6" cy="485.9" r="3.7"/><circle cx="167.8" cy="488.9" r="3.7"/><circle cx="174.2" cy="488.9" r="3.7"/><circle cx="166.2" cy="491.9" r="3.7"/><circle cx="175.8" cy="491.9" r="3.7"/><circle cx="212.5" cy="482.9" r="3.7"/><circle cx="210.9" cy="485.9" r="3.7"/><circle cx="214.1" cy="485.9" r="3.7"/><circle cx="209.3" cy="488.9" r="3.7"/><circle cx="215.7" cy="488.9" r="3.7"/><circle cx="207.7" cy="491.9" r="3.7"/><circle cx="217.3" cy="491.9" r="3.7"/><circle cx="52.0" cy="502.6" r="3.7"/><circle cx="50.4" cy="499.6" r="3.7"/><circle cx="53.6" cy="499.6" r="3.7"/><circle cx="48.8" cy="496.6" r="3.7"/><circle cx="55.2" cy="496.6" r="3.7"/><circle cx="47.2" cy="493.6" r="3.7"/><circle cx="56.8" cy="493.6" r="3.7"/><circle cx="45.6" cy="490.6" r="3.7"/><circle cx="58.4" cy="490.6" r="3.7"/><circle cx="44.0" cy="487.6" r="3.7"/><circle cx="60.0" cy="487.6" r="3.7"/><circle cx="134.0" cy="502.6" r="3.7"/><circle cx="132.4" cy="499.6" r="3.7"/><circle cx="135.6" cy="499.6" r="3.7"/><circle cx="130.8" cy="496.6" r="3.7"/><circle cx="137.2" cy="496.6" r="3.7"/><circle cx="129.2" cy="493.6" r="3.7"/><circle cx="138.8" cy="493.6" r="3.7"/><circle cx="169.7" cy="500.5" r="3.7"/><circle cx="168.1" cy="497.5" r="3.7"/><circle cx="171.3" cy="497.5" r="3.7"/><circle cx="166.5" cy="494.5" r="3.7"/><circle cx="172.9" cy="494.5" r="3.7"/><circle cx="182.5" cy="500.5" r="3.7"/><circle cx="180.9" cy="497.5" r="3.7"/><circle cx="184.1" cy="497.5" r="3.7"/><circle cx="179.3" cy="494.5" r="3.7"/><circle cx="185.7" cy="494.5" r="3.7"/><circle cx="204.0" cy="500.5" r="3.7"/><circle cx="202.4" cy="497.5" r="3.7"/><circle cx="205.6" cy="497.5" r="3.7"/><circle cx="200.8" cy="494.5" r="3.7"/><circle cx="207.2" cy="494.5" r="3.7"/><circle cx="252.1" cy="487.2" r="3.7"/><circle cx="250.5" cy="490.2" r="3.7"/><circle cx="253.7" cy="490.2" r="3.7"/><circle cx="248.9" cy="493.2" r="3.7"/><circle cx="255.3" cy="493.2" r="3.7"/><circle cx="292.0" cy="490.1" r="3.7"/><circle cx="290.4" cy="493.1" r="3.7"/><circle cx="293.6" cy="493.1" r="3.7"/><circle cx="288.8" cy="496.1" r="3.7"/><circle cx="295.2" cy="496.1" r="3.7"/><circle cx="305.6" cy="485.1" r="3.7"/><circle cx="304.0" cy="488.1" r="3.7"/><circle cx="307.2" cy="488.1" r="3.7"/><circle cx="302.4" cy="491.1" r="3.7"/><circle cx="308.8" cy="491.1" r="3.7"/><circle cx="300.8" cy="494.1" r="3.7"/><circle cx="310.4" cy="494.1" r="3.7"/><circle cx="321.3" cy="491.5" r="3.7"/><circle cx="319.7" cy="494.5" r="3.7"/><circle cx="322.9" cy="494.5" r="3.7"/><circle cx="337.7" cy="492.2" r="3.7"/><circle cx="336.1" cy="495.2" r="3.7"/><circle cx="339.3" cy="495.2" r="3.7"/><circle cx="372.6" cy="492.2" r="3.7"/><circle cx="371.0" cy="495.2" r="3.7"/><circle cx="374.2" cy="495.2" r="3.7"/><circle cx="369.4" cy="498.2" r="3.7"/><circle cx="375.8" cy="498.2" r="3.7"/><circle cx="382.6" cy="489.4" r="3.7"/><circle cx="381.0" cy="492.4" r="3.7"/><circle cx="384.2" cy="492.4" r="3.7"/><circle cx="379.4" cy="495.4" r="3.7"/><circle cx="385.8" cy="495.4" r="3.7"/><circle cx="377.8" cy="498.4" r="3.7"/><circle cx="387.4" cy="498.4" r="3.7"/><circle cx="398.3" cy="495.8" r="3.7"/><circle cx="396.7" cy="498.8" r="3.7"/><circle cx="399.9" cy="498.8" r="3.7"/><circle cx="411.8" cy="494.4" r="3.7"/><circle cx="410.2" cy="497.4" r="3.7"/><circle cx="413.4" cy="497.4" r="3.7"/><circle cx="408.6" cy="500.4" r="3.7"/><circle cx="415.0" cy="500.4" r="3.7"/><circle cx="450.3" cy="493.7" r="3.7"/><circle cx="448.7" cy="496.7" r="3.7"/><circle cx="451.9" cy="496.7" r="3.7"/><circle cx="447.1" cy="499.7" r="3.7"/><circle cx="453.5" cy="499.7" r="3.7"/><circle cx="445.5" cy="502.7" r="3.7"/><circle cx="455.1" cy="502.7" r="3.7"/><circle cx="321.3" cy="502.6" r="3.7"/><circle cx="319.7" cy="499.6" r="3.7"/><circle cx="322.9" cy="499.6" r="3.7"/><circle cx="347.6" cy="504.1" r="3.7"/><circle cx="346.0" cy="501.1" r="3.7"/><circle cx="349.2" cy="501.1" r="3.7"/><circle cx="385.4" cy="503.4" r="3.7"/><circle cx="383.8" cy="500.4" r="3.7"/><circle cx="387.0" cy="500.4" r="3.7"/><circle cx="404.0" cy="506.5" r="3.7"/><circle cx="402.4" cy="503.5" r="3.7"/><circle cx="405.6" cy="503.5" r="3.7"/><circle cx="439.6" cy="507.6" r="3.7"/><circle cx="438.0" cy="504.6" r="3.7"/><circle cx="441.2" cy="504.6" r="3.7"/><circle cx="453.9" cy="506.2" r="3.7"/><circle cx="485.7" cy="513.0" r="4.3"/><circle cx="484.0" cy="517.0" r="3.6"/><circle cx="490.0" cy="508.0" r="4.8"/><circle cx="498.6" cy="516.7" r="4.0"/><circle cx="500.5" cy="520.3" r="3.5"/><circle cx="495.0" cy="511.0" r="4.8"/><circle cx="492.0" cy="515.0" r="3.5"/><circle cx="484.0" cy="509.0" r="4.2"/><circle cx="528.6" cy="513.5" r="3.0"/><circle cx="500.0" cy="503.5" r="4.3"/><circle cx="494.0" cy="503.0" r="4.0"/><circle cx="546.0" cy="507.5" r="3.2"/><circle cx="469.0" cy="501.0" r="3.2"/><circle cx="782.3" cy="490.7" r="4.3"/><circle cx="790.7" cy="490.0" r="2.6"/><circle cx="885.4" cy="487.1" r="4.0"/><circle cx="893.3" cy="487.8" r="3.3"/><circle cx="905.4" cy="488.5" r="3.7"/>
</g>
<text class="lb" y="121.30" style="fill:#e60000"><tspan x="23.00" textLength="86.66" lengthAdjust="spacingAndGlyphs">100</tspan> <tspan x="120.01" textLength="79.03" lengthAdjust="spacingAndGlyphs">nm</tspan></text>
<text class="lb" y="228.80" style="fill:#b80000"><tspan x="375.80" textLength="56.55" lengthAdjust="spacingAndGlyphs">30</tspan> <tspan x="443.37" textLength="94.38" lengthAdjust="spacingAndGlyphs">keV</tspan> <tspan x="560.20" textLength="25.04" lengthAdjust="spacingAndGlyphs">e</tspan><tspan class="sg" x="587" y="216" style="font-size:58px">−</tspan></text>
<text class="lb" y="422.20" style="fill:#b80000"><tspan x="379.80" textLength="57.46" lengthAdjust="spacingAndGlyphs">30</tspan> <tspan x="447.48" textLength="95.16" lengthAdjust="spacingAndGlyphs">keV</tspan> <tspan x="564.95" textLength="31.05" lengthAdjust="spacingAndGlyphs">p</tspan><tspan class="sg" x="596.7" y="410.7" style="font-size:60px">+</tspan></text>
</g>
<g fill="none" stroke-linecap="butt" stroke-linejoin="round">
<path d="M1005.00 177.00C1009.32 157.09 1012.78 141.63 1017.00 121.70C1020.56 104.90 1022.72 91.70 1026.70 75.00C1028.18 68.79 1028.93 63.84 1031.00 57.80C1032.63 53.04 1033.90 49.27 1036.40 44.90C1038.38 41.45 1040.03 38.75 1042.80 35.90C1045.20 33.44 1047.24 31.56 1050.30 30.00C1053.84 28.19 1057.03 27.30 1061.00 27.30C1064.50 27.30 1067.23 27.95 1070.60 28.90C1077.83 30.94 1082.38 35.20 1088.80 39.10C1100.52 46.23 1108.81 53.05 1120.00 61.00C1149.01 81.62 1171.20 98.18 1199.70 119.50C1231.08 142.98 1254.69 162.29 1286.20 185.60C1307.88 201.64 1324.47 214.53 1346.90 229.50C1371.85 246.15 1391.67 258.61 1418.10 272.80C1443.12 286.22 1463.56 294.73 1489.40 306.50C1514.66 318.01 1534.27 327.08 1560.00 337.50C1578.57 345.02 1593.07 350.75 1612.00 357.30C1623.45 361.26 1632.29 364.58 1644.00 367.70C1659.37 371.79 1671.78 373.01 1687.40 376.00" stroke="#008000" stroke-width="5"/>
<path d="M1005.00 244.90C1051.98 237.27 1088.81 232.92 1135.50 223.70C1176.98 215.51 1209.95 211.08 1250.00 197.50C1278.65 187.79 1301.18 179.89 1327.40 164.80C1342.13 156.32 1353.45 149.27 1366.60 138.50C1378.75 128.55 1387.33 119.71 1397.80 108.00C1412.12 91.97 1420.41 77.20 1433.30 60.00C1438.22 53.44 1441.11 47.51 1447.00 41.80C1452.31 36.65 1456.86 32.75 1463.60 29.70C1467.85 27.77 1471.33 25.90 1476.00 25.90C1491.19 25.90 1503.01 25.90 1518.20 25.90C1520.99 25.90 1523.26 26.24 1525.80 27.40C1528.28 28.53 1530.01 29.95 1531.80 32.00C1533.64 34.12 1534.47 36.23 1535.60 38.80C1537.19 42.43 1537.70 45.54 1538.60 49.40C1539.72 54.24 1540.11 58.10 1540.90 63.00C1541.78 68.46 1542.35 72.73 1543.20 78.20C1544.01 83.39 1544.74 87.41 1545.50 92.60C1549.01 116.55 1549.57 135.45 1551.30 159.60C1553.63 192.10 1554.25 217.46 1556.00 250.00C1558.41 294.65 1557.27 329.66 1563.00 374.00C1564.19 383.23 1565.61 390.35 1566.70 399.60C1567.53 406.64 1567.80 412.16 1568.60 419.20C1569.33 425.62 1569.24 430.76 1570.90 437.00C1571.88 440.69 1572.66 443.61 1574.40 447.00C1575.77 449.68 1577.19 451.58 1579.00 454.00C1581.29 457.07 1583.49 459.11 1586.00 462.00C1589.26 465.76 1591.76 468.72 1595.00 472.50" stroke="#00f" stroke-width="5"/>
<path d="M1003.40 356.30C1026.58 356.44 1044.62 356.91 1067.80 356.70C1092.18 356.48 1111.14 356.05 1135.50 355.00C1159.82 353.96 1178.77 353.28 1203.00 350.90C1229.26 348.32 1249.65 345.60 1275.60 340.80C1301.51 336.01 1321.51 331.35 1346.90 324.30C1372.88 317.09 1393.00 310.95 1418.10 301.10C1437.74 293.39 1453.94 288.74 1471.60 277.20C1485.69 267.99 1496.92 260.23 1507.20 246.90C1513.35 238.93 1517.14 231.92 1521.40 222.80C1528.50 207.60 1530.63 194.39 1534.20 178.00C1537.29 163.82 1538.71 152.59 1540.60 138.20C1542.62 122.88 1543.64 110.90 1544.90 95.50C1546.76 72.75 1547.08 54.99 1548.30 32.20C1549.99 70.29 1551.66 99.90 1553.00 138.00C1554.30 174.71 1554.55 203.29 1555.70 240.00C1556.45 264.12 1557.05 282.88 1558.00 307.00C1558.95 331.13 1559.07 349.93 1561.00 374.00C1562.02 386.77 1563.10 396.67 1564.50 409.40C1565.51 418.59 1566.05 425.77 1567.50 434.90C1568.40 440.58 1568.43 445.20 1570.40 450.60C1571.75 454.31 1573.00 457.20 1575.30 460.40C1577.62 463.62 1579.97 465.75 1583.10 468.20C1586.82 471.11 1590.40 472.36 1594.50 474.70" stroke="#f00" stroke-width="5" stroke-linejoin="bevel"/>
</g>
<g stroke="#000" fill="none">
<path d="M1005.3 23V479.8" stroke-width="3.3"/>
<path d="M1003.6 478.1H1697.4" stroke-width="3.5"/>
<path d="M987.2 25.8H1004" stroke-width="2"/>
<path d="M987.2 251.7H1004" stroke-width="2"/>
<path d="M987.2 478.1H1004" stroke-width="2"/>
<path d="M1003.4 478V496.5" stroke-width="1.5"/>
<path d="M1235.4 478V496.5" stroke-width="1.5"/>
<path d="M1466.9 478V496.5" stroke-width="1.5"/>
<path d="M1698.7 478V496.5" stroke-width="1.5"/>
</g>
<g class="ch" fill="#000" font-size="32px">
<text x="982.3" y="33.8" text-anchor="end">100</text>
<text x="982.3" y="259.7" text-anchor="end">50</text>
<text x="982.3" y="489" text-anchor="end">0</text>
<text x="1005.2" y="517.8" text-anchor="middle">0</text>
<text x="1237.2" y="517.8" text-anchor="middle">10</text>
<text x="1468.2" y="517.8" text-anchor="middle">20</text>
<text x="1700.3" y="517.8" text-anchor="middle">30</text>
<text x="1348.8" y="549" text-anchor="middle">Depth in Tissue (cm)</text>
<text transform="translate(946.2 236.3) rotate(-90)" text-anchor="middle">Dose (%)</text>
</g>
<g class="ch" font-size="27.6px">
<text x="1029.2" y="124.6" fill="#008000">6 MeV</text>
<text x="1024.3" y="156.3" fill="#008000">PHOTON beam</text>
<text x="1174.8" y="247.3" fill="#00f">250 MeV</text>
<text x="1015.2" y="277.4" fill="#00f">modified PROTON beam</text>
<text x="1038.5" y="394.6" fill="#f00">native 250 MeV</text>
<text x="1036.8" y="425.3" fill="#f00">PROTON beam</text>
</g>
</svg>
</body></html>
